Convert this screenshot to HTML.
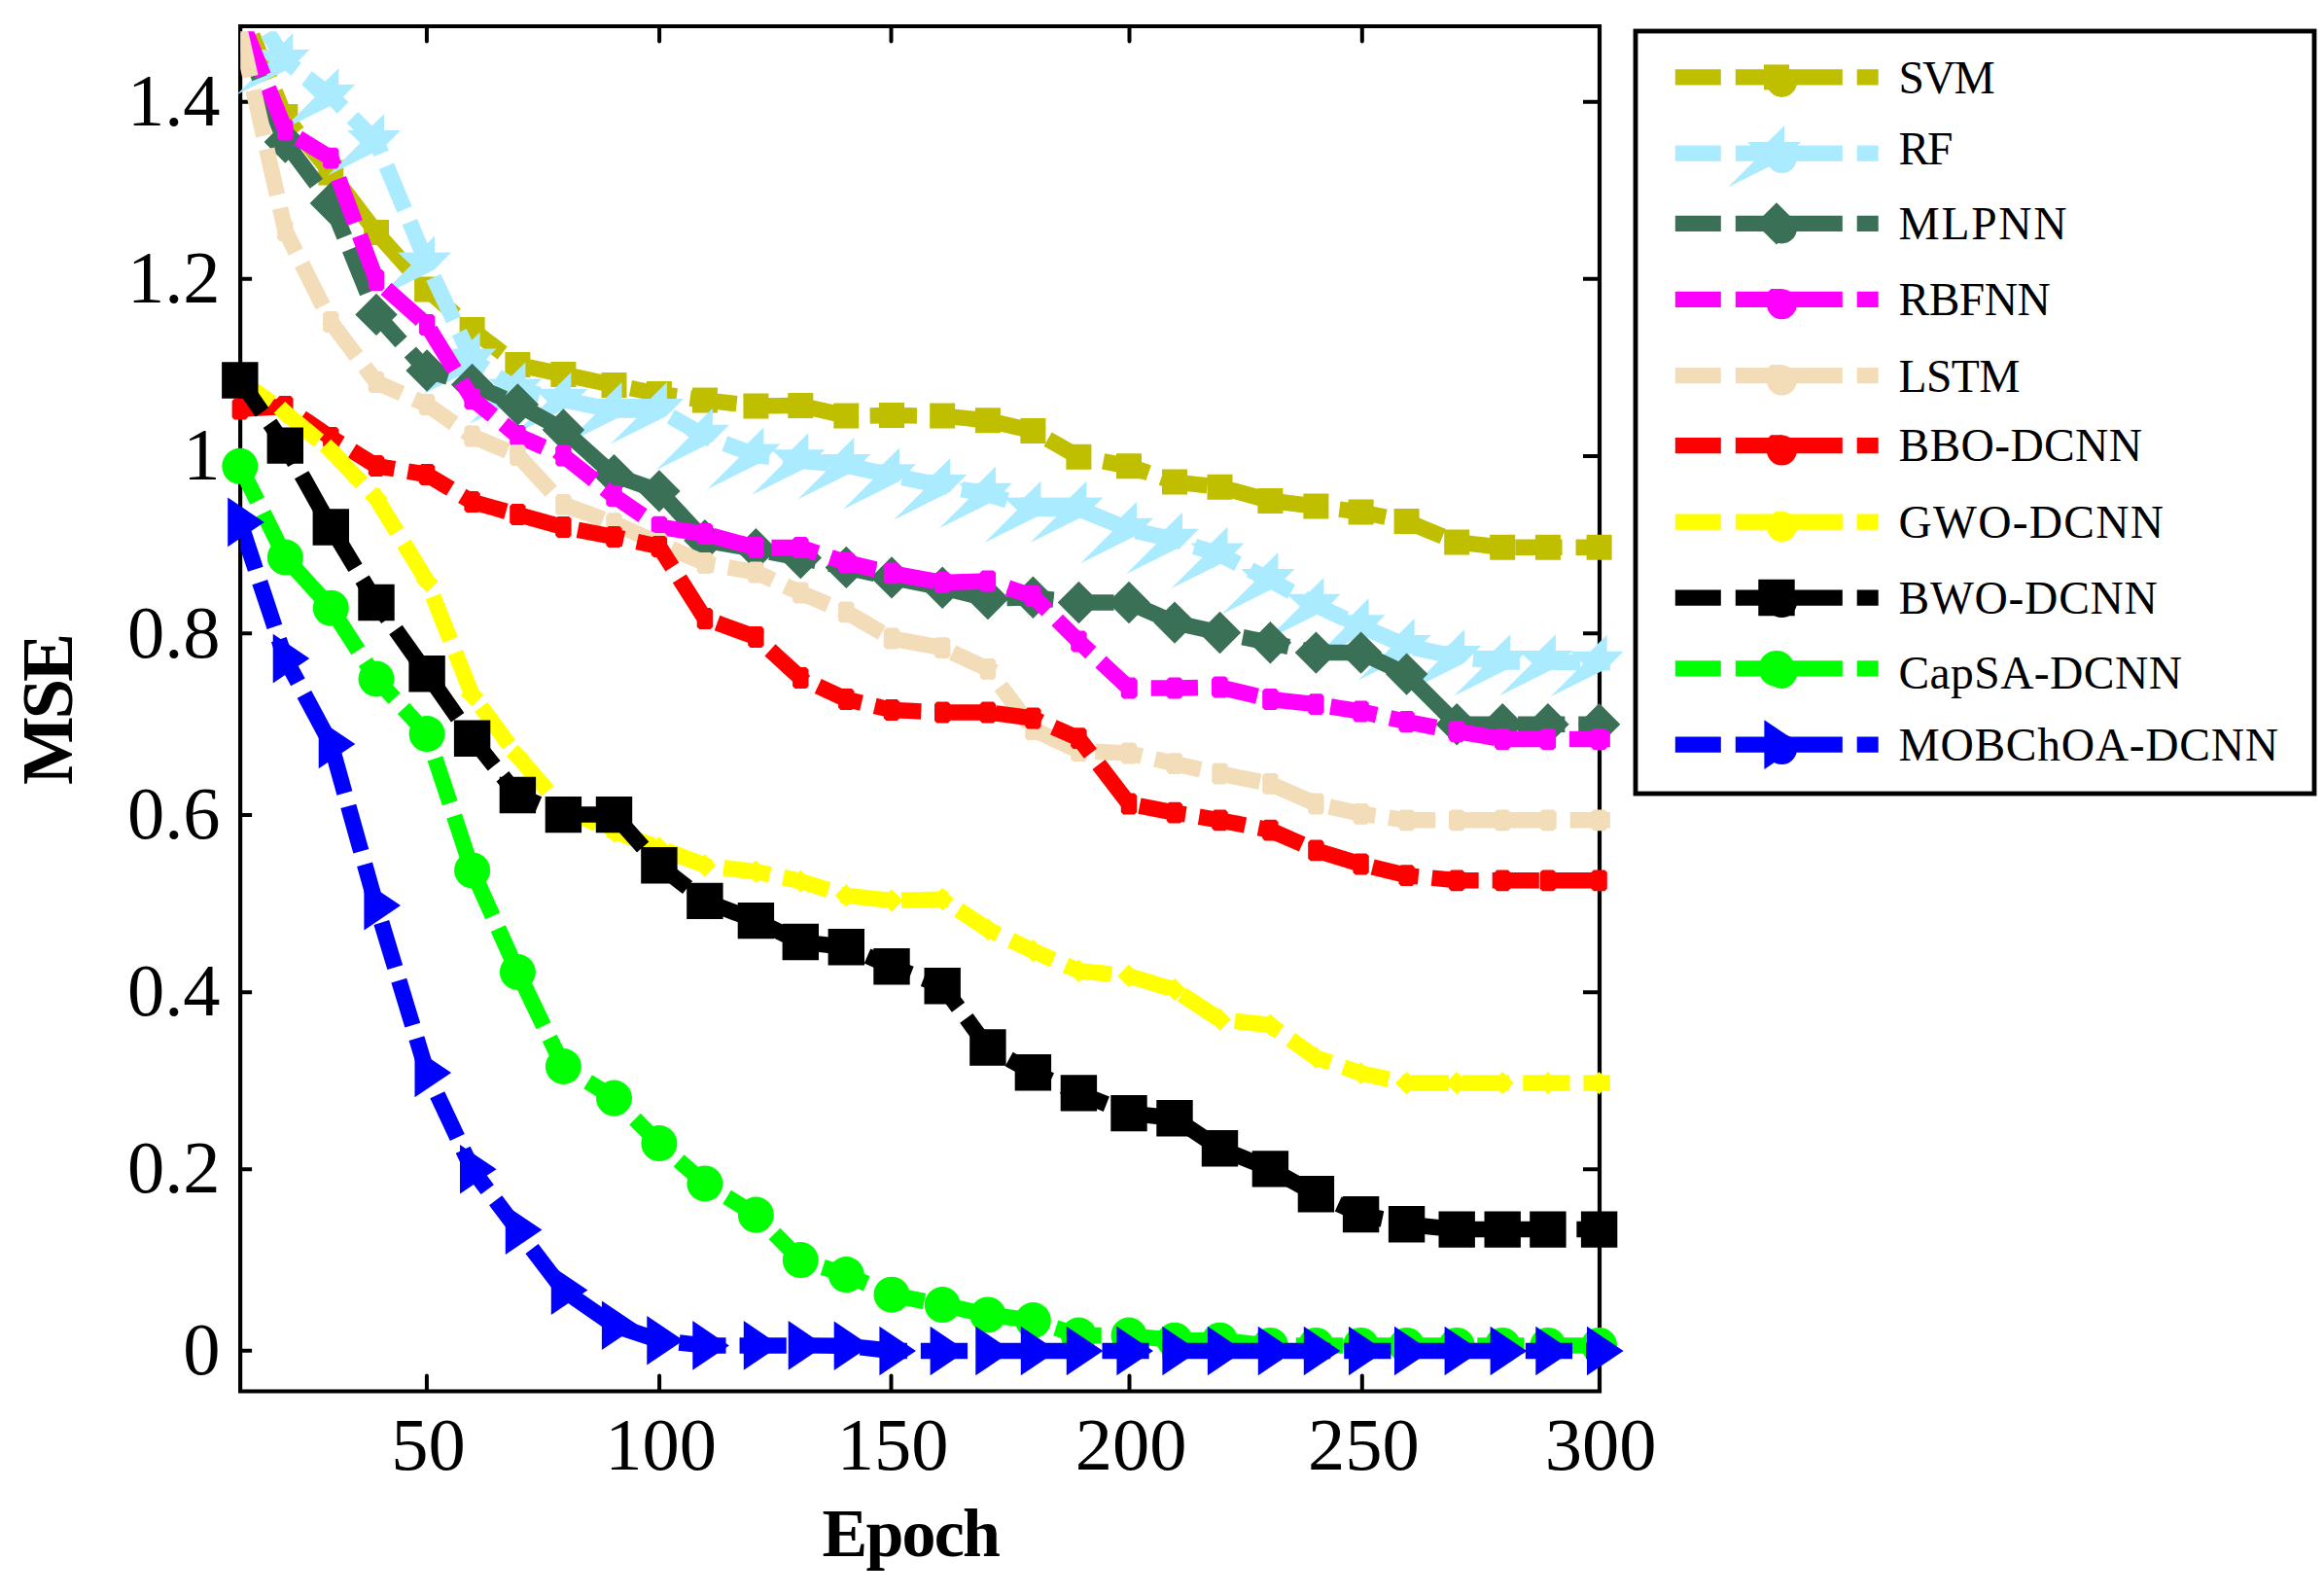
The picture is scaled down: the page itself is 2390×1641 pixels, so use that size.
<!DOCTYPE html>
<html lang="en"><head><meta charset="utf-8"><title>MSE vs Epoch</title>
<style>html,body{margin:0;padding:0;background:#fff}svg{display:block}text{font-family:"Liberation Serif",serif;fill:#000}.tk{font-size:76.5px}.lg{font-size:47.5px}.ax{font-weight:bold}.ln{fill:none;stroke-width:16.5;stroke-linecap:square;stroke-linejoin:bevel}</style></head><body>
<svg width="2390" height="1641" viewBox="0 0 2390 1641">
<rect width="2390" height="1641" fill="#fff"/>
<defs><clipPath id="cp"><rect x="247.2" y="32.3" width="1410" height="1500"/></clipPath></defs>
<g fill="none" stroke="#000" stroke-width="4.2">
<path d="M247.1 27H1645V1430.5H247.1z" stroke-linejoin="miter"/>
</g>
<path d="M438.9 1428.5V1414.6M438.9 29V42.6M678.1 1428.5V1414.6M678.1 29V42.6M916.5 1428.5V1414.6M916.5 29V42.6M1161.5 1428.5V1414.6M1161.5 29V42.6M1400.8 1428.5V1414.6M1400.8 29V42.6" fill="none" stroke="#000" stroke-width="4" stroke-linecap="round"/>
<path d="M248.1 104.8H259.1M1644 104.8H1628M248.1 286.7H259.1M1644 286.7H1628M248.1 469H259.1M1644 469H1628M248.1 651.3H259.1M1644 651.3H1628M248.1 838.1H259.1M1644 838.1H1628M248.1 1020.2H259.1M1644 1020.2H1628M248.1 1202.2H259.1M1644 1202.2H1628M248.1 1388.8H259.1M1644 1388.8H1628" fill="none" stroke="#000" stroke-width="4"/>
<g class="tk" text-anchor="middle">
<text x="440.4" y="1510.6">50</text>
<text x="679.6" y="1510.6">100</text>
<text x="918" y="1510.6">150</text>
<text x="1163" y="1510.6">200</text>
<text x="1402.3" y="1510.6">250</text>
<text x="1646.1" y="1510.6">300</text>
</g>
<g class="tk" text-anchor="end">
<text x="226.5" y="129">1.4</text>
<text x="226.5" y="310.9">1.2</text>
<text x="226.5" y="493.2">1</text>
<text x="226.5" y="675.5">0.8</text>
<text x="226.5" y="862.3">0.6</text>
<text x="226.5" y="1044.4">0.4</text>
<text x="226.5" y="1226.4">0.2</text>
<text x="226.5" y="1413">0</text>
</g>
<text class="ax" font-size="70" x="845.5" y="1600.4" textLength="183.5" lengthAdjust="spacing">Epoch</text>
<text class="ax" font-size="75" transform="translate(74.4 807) rotate(-90)" textLength="156" lengthAdjust="spacing">MSE</text>
<g>
<g fill="#bfbf00" stroke="#bfbf00">
<path class="ln" clip-path="url(#cp)" d="M246.8 5L251.2 15.9M262.6 44.1L274.5 73.5M285.9 101.8L293.3 120L300.9 129.4M320.2 152.9L340.3 177.5L340.3 177.5M358.7 201.8L377.9 227M397.3 250.6L418.4 274.2M438.7 297L439.1 297.5L462.3 318.2M485 338.5L485.6 339L510.1 357.9M534.7 375.5L565.7 382.1M595.6 388.4L626.6 395M656.5 400.8L677.9 405L687.7 406.3M717.9 410.5L724.9 411.4L749.4 414.2M779.7 417.4L811.4 417.1M841.5 421.1L870.3 427.6L872.5 427.6M902.9 427.3L917 427.1L934.7 427.3M965.1 427.6L969.2 427.6L996.7 430.4M1026.8 434.8L1057.7 442M1084.7 455.7L1109.4 469.7L1112.7 470.3M1142.7 475.9L1161 479.3L1173.4 483.6M1202.2 493.6L1208 495.6L1233.4 498.4M1263.4 503.1L1294 511.5M1323.9 517L1353.4 520.6L1355.4 520.9M1385.6 524.7L1399.6 526.5L1416.9 530M1446.7 536.2L1476 548.3M1504.6 558.2L1536.2 561.7M1566.6 562.7L1591.9 562.7L1598.3 562.7M1628.8 562.7L1644.6 562.7L1647.6 562.7"/>
<path d="M280.3 107h26v26h-26zM327.3 164.5h26v26h-26zM374 226h26v26h-26zM426.1 284.5h26v26h-26zM472.6 326h26v26h-26zM519.4 362h26v26h-26zM566.4 372h26v26h-26zM618.5 383h26v26h-26zM664.9 392h26v26h-26zM711.9 398.4h26v26h-26zM764.4 404.4h26v26h-26zM810.3 404h26v26h-26zM857.3 414.6h26v26h-26zM904 414.1h26v26h-26zM956.2 414.6h26v26h-26zM1002.9 419.3h26v26h-26zM1049.4 430.1h26v26h-26zM1096.4 456.7h26v26h-26zM1148 466.3h26v26h-26zM1195 482.6h26v26h-26zM1241.5 487.7h26v26h-26zM1293.4 501.9h26v26h-26zM1340.4 507.6h26v26h-26zM1386.6 513.5h26v26h-26zM1433.6 523.1h26v26h-26zM1485.2 544.5h26v26h-26zM1532.2 549.7h26v26h-26zM1578.9 549.7h26v26h-26zM1631.6 549.7h26v26h-26z" stroke="none"/>
</g>
<g fill="#abebff" stroke="#abebff">
<path class="ln" clip-path="url(#cp)" d="M246.8 -12L263.6 14.9M279.8 40.7L293.3 62.4L298.2 66.2M322.3 84.8L340.3 98.6L346.7 105M368.2 126.6L387 145.6L388.9 150.2M400.6 178.4L412.8 207.7M424.5 235.8L436.7 265.1M449.4 292.8L462.9 321.5M475.8 349.1L485.6 369.9L492.9 374.7M518.3 391.6L532.4 400.9L546.8 404.1M576.6 410.6L579.4 411.2L607.7 416.8M637.7 421.5L669.5 421.5M697.1 432.4L724.7 448.1M753.1 458.9L777.4 468L783.2 468.7M813.4 472.5L823.3 473.7L844.9 475.9M875.2 479.6L906.1 486.4M936 492.7L967 499.1M997 504.7L1015.9 508.2L1027.8 512M1056.8 521.3L1062.4 523.1L1088.3 523.1M1118 526.7L1147.4 538.7M1176.4 547.9L1207.3 555M1236.3 564.3L1254.5 570.1L1265.7 575.8M1292.9 589.6L1306.4 596.5L1320.9 604.5M1347.6 619.1L1353.4 622.3L1376.2 632.9M1403.9 645.6L1433 658.4M1461.8 667.6L1492.9 674.3M1523.1 678.2L1545.2 680.6L1554.6 680.6M1585.1 680.6L1591.9 680.6L1616.8 680.9M1647.3 681.2L1647.6 681.2"/>
<path d="M301.3 34L301.3 50.9L318.3 50.9L300.6 68.9L243.3 97.4L276.9 63.9L263.3 50.9L284.1 50.9zM348.3 70.2L348.3 87.1L365.3 87.1L347.6 105.1L290.3 133.6L323.9 100.1L310.3 87.1L331.1 87.1zM395 117.2L395 134.1L412 134.1L394.3 152.1L337 180.6L370.6 147.1L357 134.1L377.8 134.1zM447.1 242.5L447.1 259.4L464.1 259.4L446.4 277.4L389.1 305.9L422.7 272.4L409.1 259.4L429.9 259.4zM493.6 341.5L493.6 358.4L510.6 358.4L492.9 376.4L435.6 404.9L469.2 371.4L455.6 358.4L476.4 358.4zM540.4 372.5L540.4 389.4L557.4 389.4L539.7 407.4L482.4 435.9L516 402.4L502.4 389.4L523.2 389.4zM587.4 382.8L587.4 399.7L604.4 399.7L586.7 417.7L529.4 446.2L563 412.7L549.4 399.7L570.2 399.7zM639.5 393.1L639.5 410L656.5 410L638.8 428L581.5 456.5L615.1 423L601.5 410L622.3 410zM685.9 393.1L685.9 410L702.9 410L685.2 428L627.9 456.5L661.5 423L647.9 410L668.7 410zM732.9 419.8L732.9 436.7L749.9 436.7L732.2 454.7L674.9 483.2L708.5 449.7L694.9 436.7L715.7 436.7zM785.4 439.6L785.4 456.5L802.4 456.5L784.7 474.5L727.4 503L761 469.5L747.4 456.5L768.2 456.5zM831.3 445.3L831.3 462.2L848.3 462.2L830.6 480.2L773.3 508.7L806.9 475.2L793.3 462.2L814.1 462.2zM878.3 450.1L878.3 467L895.3 467L877.6 485L820.3 513.5L853.9 480L840.3 467L861.1 467zM925 460.4L925 477.3L942 477.3L924.3 495.3L867 523.8L900.6 490.3L887 477.3L907.8 477.3zM977.2 471.1L977.2 488L994.2 488L976.5 506L919.2 534.5L952.8 501L939.2 488L960 488zM1023.9 479.8L1023.9 496.7L1040.9 496.7L1023.2 514.7L965.9 543.2L999.5 509.7L985.9 496.7L1006.7 496.7zM1070.4 494.7L1070.4 511.6L1087.4 511.6L1069.7 529.6L1012.4 558.1L1046 524.6L1032.4 511.6L1053.2 511.6zM1117.4 494.7L1117.4 511.6L1134.4 511.6L1116.7 529.6L1059.4 558.1L1093 524.6L1079.4 511.6L1100.2 511.6zM1169 515.9L1169 532.8L1186 532.8L1168.3 550.8L1111 579.3L1144.6 545.8L1131 532.8L1151.8 532.8zM1216 526.8L1216 543.7L1233 543.7L1215.3 561.7L1158 590.2L1191.6 556.7L1178 543.7L1198.8 543.7zM1262.5 541.7L1262.5 558.6L1279.5 558.6L1261.8 576.6L1204.5 605.1L1238.1 571.6L1224.5 558.6L1245.3 558.6zM1314.4 568.1L1314.4 585L1331.4 585L1313.7 603L1256.4 631.5L1290 598L1276.4 585L1297.2 585zM1361.4 593.9L1361.4 610.8L1378.4 610.8L1360.7 628.8L1303.4 657.3L1337 623.8L1323.4 610.8L1344.2 610.8zM1407.6 615.3L1407.6 632.2L1424.6 632.2L1406.9 650.2L1349.6 678.7L1383.2 645.2L1369.6 632.2L1390.4 632.2zM1454.6 636L1454.6 652.9L1471.6 652.9L1453.9 670.9L1396.6 699.4L1430.2 665.9L1416.6 652.9L1437.4 652.9zM1506.2 647L1506.2 663.9L1523.2 663.9L1505.5 681.9L1448.2 710.4L1481.8 676.9L1468.2 663.9L1489 663.9zM1553.2 652.2L1553.2 669.1L1570.2 669.1L1552.5 687.1L1495.2 715.6L1528.8 682.1L1515.2 669.1L1536 669.1zM1599.9 652.2L1599.9 669.1L1616.9 669.1L1599.2 687.1L1541.9 715.6L1575.5 682.1L1561.9 669.1L1582.7 669.1zM1652.6 652.8L1652.6 669.7L1669.6 669.7L1651.9 687.7L1594.6 716.2L1628.2 682.7L1614.6 669.7L1635.4 669.7z" stroke="none"/>
</g>
<g fill="#3a7156" stroke="#3a7156">
<path class="ln" clip-path="url(#cp)" d="M252.1 43.2L263.9 72.6M275.2 100.9L287 130.4M301.4 156.9L320.4 182.3M338.6 206.8L340.3 209L351.2 235.8M362.8 264L374.7 293.4M386.3 321.6L387 323.4L407 345.5M427.4 368.1L439.1 381L452.8 385.2M481.9 394.3L485.6 395.4L511.1 406.6M538.7 419.5L566.4 434.8M591.1 452.4L614.7 473.6M639 491.2L668.9 501.8M692.2 520.3L713.7 543.6M738.7 558.1L769.9 563.5M799.9 569.1L823.3 573.6L831 575.2M860.9 581.4L870.3 583.4L891.8 588.2M921.6 594.8L952.7 600.9M982.5 607.4L1013.3 615M1043.7 614.8L1062.4 614.3L1075.3 615.7M1105.6 619.1L1109.4 619.5L1137.3 619.5M1167.2 622.2L1196.3 635M1225.3 644L1254.5 650.5L1256.2 650.8M1286.1 656.8L1306.4 660.8L1317.2 663.2M1347 669.7L1353.4 671.1L1378.5 671.1M1408.1 675.1L1436.9 688.5M1460.5 707L1483 729.5M1507.1 744.7L1538.9 744.7M1569.3 744.7L1591.9 744.7L1601.1 744.7M1631.5 744.7L1644.6 744.7L1647.6 744.7"/>
<path d="M293.3 124.3l21.7 21.7l-21.7 21.7l-21.7 -21.7zM340.3 187.3l21.7 21.7l-21.7 21.7l-21.7 -21.7zM387 301.7l21.7 21.7l-21.7 21.7l-21.7 -21.7zM439.1 359.3l21.7 21.7l-21.7 21.7l-21.7 -21.7zM485.6 373.7l21.7 21.7l-21.7 21.7l-21.7 -21.7zM532.4 394.3l21.7 21.7l-21.7 21.7l-21.7 -21.7zM579.4 420.3l21.7 21.7l-21.7 21.7l-21.7 -21.7zM631.5 466.9l21.7 21.7l-21.7 21.7l-21.7 -21.7zM677.9 483.2l21.7 21.7l-21.7 21.7l-21.7 -21.7zM724.9 534l21.7 21.7l-21.7 21.7l-21.7 -21.7zM777.4 543.1l21.7 21.7l-21.7 21.7l-21.7 -21.7zM823.3 551.9l21.7 21.7l-21.7 21.7l-21.7 -21.7zM870.3 561.7l21.7 21.7l-21.7 21.7l-21.7 -21.7zM917 572.2l21.7 21.7l-21.7 21.7l-21.7 -21.7zM969.2 582.5l21.7 21.7l-21.7 21.7l-21.7 -21.7zM1015.9 593.9l21.7 21.7l-21.7 21.7l-21.7 -21.7zM1062.4 592.6l21.7 21.7l-21.7 21.7l-21.7 -21.7zM1109.4 597.8l21.7 21.7l-21.7 21.7l-21.7 -21.7zM1161 597.8l21.7 21.7l-21.7 21.7l-21.7 -21.7zM1208 618.4l21.7 21.7l-21.7 21.7l-21.7 -21.7zM1254.5 628.8l21.7 21.7l-21.7 21.7l-21.7 -21.7zM1306.4 639.1l21.7 21.7l-21.7 21.7l-21.7 -21.7zM1353.4 649.4l21.7 21.7l-21.7 21.7l-21.7 -21.7zM1399.6 649.4l21.7 21.7l-21.7 21.7l-21.7 -21.7zM1446.6 671.4l21.7 21.7l-21.7 21.7l-21.7 -21.7zM1498.2 723l21.7 21.7l-21.7 21.7l-21.7 -21.7zM1545.2 723l21.7 21.7l-21.7 21.7l-21.7 -21.7zM1591.9 723l21.7 21.7l-21.7 21.7l-21.7 -21.7zM1644.6 723l21.7 21.7l-21.7 21.7l-21.7 -21.7z" stroke="none"/>
</g>
<g fill="#ff00ff" stroke="#ff00ff">
<path class="ln" clip-path="url(#cp)" d="M255.8 40.5L267.7 69.9M279 98.2L290.9 127.6M313.7 146.2L340.3 162.6L340.5 163.1M351.1 191.6L362.2 221.4M372.8 249.9L383.9 279.6M403.2 302.3L426.9 323.3M446.5 346.2L463.1 373.2M479 399.2L485.6 410L500.4 422M524.1 441.2L532.4 448L551.6 456.4M579.6 468.6L604.4 488.4M628.2 507.4L631.5 510L654.2 525.5M679.7 542L711 546.8M740.8 553.2L771.4 561.4M801.7 563L823.3 563L832.9 566.2M861.9 575.6L870.3 578.4L892.6 583.6M922.3 590.3L953.5 596.1M983.7 598.5L1015.4 597.5M1044.3 607L1062.4 613L1071.4 621.9M1093.1 643.3L1109.4 659.5L1115.8 665.5M1138.1 686.2L1161 707.5L1161.5 707.5M1192 707.5L1208 707.5L1223.7 707.2M1254.2 706.5L1254.5 706.5L1285 713.8M1314.8 719.9L1346.3 723.4M1376.5 727.8L1399.6 731.5L1407.7 733.3M1437.5 740L1446.6 742L1468.6 746.3M1498.5 752L1529.8 757.4M1560 760L1591.7 760M1622.2 760L1644.6 760L1647.6 760"/>
<path d="M287.6 122.7L299 122.7L301.5 125.2L301.5 142L299 144.5L287.6 144.5L285.1 142L285.1 125.2zM334.6 151.7L346 151.7L348.5 154.2L348.5 171L346 173.5L334.6 173.5L332.1 171L332.1 154.2zM381.3 277.1L392.7 277.1L395.2 279.6L395.2 296.4L392.7 298.9L381.3 298.9L378.8 296.4L378.8 279.6zM433.4 323.1L444.8 323.1L447.3 325.6L447.3 342.4L444.8 344.9L433.4 344.9L430.9 342.4L430.9 325.6zM479.9 399.1L491.3 399.1L493.8 401.6L493.8 418.4L491.3 420.9L479.9 420.9L477.4 418.4L477.4 401.6zM526.7 437.1L538.1 437.1L540.6 439.6L540.6 456.4L538.1 458.9L526.7 458.9L524.2 456.4L524.2 439.6zM573.7 457.6L585.1 457.6L587.6 460.1L587.6 476.9L585.1 479.4L573.7 479.4L571.2 476.9L571.2 460.1zM625.8 499.1L637.2 499.1L639.7 501.6L639.7 518.4L637.2 520.9L625.8 520.9L623.3 518.4L623.3 501.6zM672.2 530.8L683.6 530.8L686.1 533.3L686.1 550.1L683.6 552.6L672.2 552.6L669.7 550.1L669.7 533.3zM719.2 538.1L730.6 538.1L733.1 540.6L733.1 557.4L730.6 559.9L719.2 559.9L716.7 557.4L716.7 540.6zM771.7 552.1L783.1 552.1L785.6 554.6L785.6 571.4L783.1 573.9L771.7 573.9L769.2 571.4L769.2 554.6zM817.6 552.1L829 552.1L831.5 554.6L831.5 571.4L829 573.9L817.6 573.9L815.1 571.4L815.1 554.6zM864.6 567.5L876 567.5L878.5 570L878.5 586.8L876 589.3L864.6 589.3L862.1 586.8L862.1 570zM911.3 578.4L922.7 578.4L925.2 580.9L925.2 597.7L922.7 600.2L911.3 600.2L908.8 597.7L908.8 580.9zM963.5 588.1L974.9 588.1L977.4 590.6L977.4 607.4L974.9 609.9L963.5 609.9L961 607.4L961 590.6zM1010.2 586.6L1021.6 586.6L1024.1 589.1L1024.1 605.9L1021.6 608.4L1010.2 608.4L1007.7 605.9L1007.7 589.1zM1056.7 602.1L1068.1 602.1L1070.6 604.6L1070.6 621.4L1068.1 623.9L1056.7 623.9L1054.2 621.4L1054.2 604.6zM1103.7 648.6L1115.1 648.6L1117.6 651.1L1117.6 667.9L1115.1 670.4L1103.7 670.4L1101.2 667.9L1101.2 651.1zM1155.3 696.6L1166.7 696.6L1169.2 699.1L1169.2 715.9L1166.7 718.4L1155.3 718.4L1152.8 715.9L1152.8 699.1zM1202.3 696.6L1213.7 696.6L1216.2 699.1L1216.2 715.9L1213.7 718.4L1202.3 718.4L1199.8 715.9L1199.8 699.1zM1248.8 695.6L1260.2 695.6L1262.7 698.1L1262.7 714.9L1260.2 717.4L1248.8 717.4L1246.3 714.9L1246.3 698.1zM1300.7 708.1L1312.1 708.1L1314.6 710.6L1314.6 727.4L1312.1 729.9L1300.7 729.9L1298.2 727.4L1298.2 710.6zM1347.7 713.3L1359.1 713.3L1361.6 715.8L1361.6 732.6L1359.1 735.1L1347.7 735.1L1345.2 732.6L1345.2 715.8zM1393.9 720.6L1405.3 720.6L1407.8 723.1L1407.8 739.9L1405.3 742.4L1393.9 742.4L1391.4 739.9L1391.4 723.1zM1440.9 731.1L1452.3 731.1L1454.8 733.6L1454.8 750.4L1452.3 752.9L1440.9 752.9L1438.4 750.4L1438.4 733.6zM1492.5 741.1L1503.9 741.1L1506.4 743.6L1506.4 760.4L1503.9 762.9L1492.5 762.9L1490 760.4L1490 743.6zM1539.5 749.1L1550.9 749.1L1553.4 751.6L1553.4 768.4L1550.9 770.9L1539.5 770.9L1537 768.4L1537 751.6zM1586.2 749.1L1597.6 749.1L1600.1 751.6L1600.1 768.4L1597.6 770.9L1586.2 770.9L1583.7 768.4L1583.7 751.6zM1638.9 749.1L1650.3 749.1L1652.8 751.6L1652.8 768.4L1650.3 770.9L1638.9 770.9L1636.4 768.4L1636.4 751.6z" stroke="none"/>
</g>
<g fill="#f3dcb8" stroke="#f3dcb8">
<path class="ln" clip-path="url(#cp)" d="M248.6 40L255.6 70.9M262.4 100.7L269.4 131.6M276.1 161.3L283.1 192.3M289.9 222L293.3 237L300.6 251.6M314.2 278.9L328.4 307.2M342.6 334.1L361.7 359.5M380.1 383.8L387 393L405.5 401.2M433.4 413.5L439.1 416L460 430.6M484.9 448L485.6 448.5L514.1 460.4M539.7 475.8L561.2 499.1M582.9 520.1L612.6 531.1M640.9 542.3L669.9 555.2M697.9 567.4L724.9 579L727.1 579.4M757.1 584.8L777.4 588.5L787.5 593.1M815.2 605.8L823.3 609.5L844.4 618.4M872.3 630.5L899.7 646.4M927.3 658.4L958.5 664.2M987 674.5L1015.7 687.8M1034.1 712.2L1053.1 737.5M1075.9 756.3L1104.6 769.8M1134.6 773.2L1161 774.5L1166.2 775.7M1195.9 782.4L1208 785.2L1226.8 789.4M1256.6 795.9L1287.7 802.2M1316.8 810.5L1345.9 823.2M1375.2 831.3L1399.6 836.8L1406.2 837.7M1436.4 841.9L1446.6 843.3L1468 843.3M1498.5 843.3L1530.2 843.3M1560.7 843.3L1591.9 843.3L1592.4 843.3M1622.9 843.3L1644.6 843.3L1647.6 843.3"/>
<path d="M287.6 226.1L299 226.1L301.5 228.6L301.5 245.4L299 247.9L287.6 247.9L285.1 245.4L285.1 228.6zM334.6 320.1L346 320.1L348.5 322.6L348.5 339.4L346 341.9L334.6 341.9L332.1 339.4L332.1 322.6zM381.3 382.1L392.7 382.1L395.2 384.6L395.2 401.4L392.7 403.9L381.3 403.9L378.8 401.4L378.8 384.6zM433.4 405.1L444.8 405.1L447.3 407.6L447.3 424.4L444.8 426.9L433.4 426.9L430.9 424.4L430.9 407.6zM479.9 437.6L491.3 437.6L493.8 440.1L493.8 456.9L491.3 459.4L479.9 459.4L477.4 456.9L477.4 440.1zM526.7 457.1L538.1 457.1L540.6 459.6L540.6 476.4L538.1 478.9L526.7 478.9L524.2 476.4L524.2 459.6zM573.7 507.9L585.1 507.9L587.6 510.4L587.6 527.2L585.1 529.7L573.7 529.7L571.2 527.2L571.2 510.4zM625.8 527.2L637.2 527.2L639.7 529.7L639.7 546.5L637.2 549L625.8 549L623.3 546.5L623.3 529.7zM672.2 547.9L683.6 547.9L686.1 550.4L686.1 567.2L683.6 569.7L672.2 569.7L669.7 567.2L669.7 550.4zM719.2 568.1L730.6 568.1L733.1 570.6L733.1 587.4L730.6 589.9L719.2 589.9L716.7 587.4L716.7 570.6zM771.7 577.6L783.1 577.6L785.6 580.1L785.6 596.9L783.1 599.4L771.7 599.4L769.2 596.9L769.2 580.1zM817.6 598.6L829 598.6L831.5 601.1L831.5 617.9L829 620.4L817.6 620.4L815.1 617.9L815.1 601.1zM864.6 618.4L876 618.4L878.5 620.9L878.5 637.7L876 640.2L864.6 640.2L862.1 637.7L862.1 620.9zM911.3 645.6L922.7 645.6L925.2 648.1L925.2 664.9L922.7 667.4L911.3 667.4L908.8 664.9L908.8 648.1zM963.5 655.3L974.9 655.3L977.4 657.8L977.4 674.6L974.9 677.1L963.5 677.1L961 674.6L961 657.8zM1010.2 677L1021.6 677L1024.1 679.5L1024.1 696.3L1021.6 698.8L1010.2 698.8L1007.7 696.3L1007.7 679.5zM1056.7 739.1L1068.1 739.1L1070.6 741.6L1070.6 758.4L1068.1 760.9L1056.7 760.9L1054.2 758.4L1054.2 741.6zM1103.7 761.1L1115.1 761.1L1117.6 763.6L1117.6 780.4L1115.1 782.9L1103.7 782.9L1101.2 780.4L1101.2 763.6zM1155.3 763.6L1166.7 763.6L1169.2 766.1L1169.2 782.9L1166.7 785.4L1155.3 785.4L1152.8 782.9L1152.8 766.1zM1202.3 774.3L1213.7 774.3L1216.2 776.8L1216.2 793.6L1213.7 796.1L1202.3 796.1L1199.8 793.6L1199.8 776.8zM1248.8 784.6L1260.2 784.6L1262.7 787.1L1262.7 803.9L1260.2 806.4L1248.8 806.4L1246.3 803.9L1246.3 787.1zM1300.7 795L1312.1 795L1314.6 797.5L1314.6 814.3L1312.1 816.8L1300.7 816.8L1298.2 814.3L1298.2 797.5zM1347.7 815.6L1359.1 815.6L1361.6 818.1L1361.6 834.9L1359.1 837.4L1347.7 837.4L1345.2 834.9L1345.2 818.1zM1393.9 825.9L1405.3 825.9L1407.8 828.4L1407.8 845.2L1405.3 847.7L1393.9 847.7L1391.4 845.2L1391.4 828.4zM1440.9 832.4L1452.3 832.4L1454.8 834.9L1454.8 851.7L1452.3 854.2L1440.9 854.2L1438.4 851.7L1438.4 834.9zM1492.5 832.4L1503.9 832.4L1506.4 834.9L1506.4 851.7L1503.9 854.2L1492.5 854.2L1490 851.7L1490 834.9zM1539.5 832.4L1550.9 832.4L1553.4 834.9L1553.4 851.7L1550.9 854.2L1539.5 854.2L1537 851.7L1537 834.9zM1586.2 832.4L1597.6 832.4L1600.1 834.9L1600.1 851.7L1597.6 854.2L1586.2 854.2L1583.7 851.7L1583.7 834.9zM1638.9 832.4L1650.3 832.4L1652.8 834.9L1652.8 851.7L1650.3 854.2L1638.9 854.2L1636.4 851.7L1636.4 834.9z" stroke="none"/>
</g>
<g fill="#ff0000" stroke="#ff0000">
<path class="ln" clip-path="url(#cp)" d="M259.8 419.9L291.4 418.1M317 434.1L340.3 450L343.3 451.8M369.2 467.9L387 479L397.6 480.8M427.6 486L439.1 488L456.3 498.3M482.4 514.1L485.6 516L512.5 523.5M541.9 531.6L572.5 540.1M602.3 546.4L631.5 552L633.4 552.4M663.2 558.8L677.9 562L686.9 576.1M703.2 601.8L720.2 628.6M745.3 643.4L775.2 654.2M798.1 674L821.5 695.4M848.7 708.9L870.3 719L878 720.8M907.7 727.8L917 730L939.1 731.1M969.5 732.5L1001.3 732.5M1031.6 734.5L1062.4 738.5L1063 738.8M1090.9 751.1L1109.4 759.2L1116.4 768.3M1135 792.5L1154.3 817.7M1180 830.2L1208 835.6L1211.2 836.1M1241.3 841.1L1254.5 843.3L1272.5 846.9M1302.4 852.8L1306.4 853.6L1331.7 864.7M1359.8 876.3L1390.1 885.6M1419.6 893.4L1446.6 900.1L1450.5 900.5M1480.8 903.5L1498.2 905.3L1512.4 905.3M1542.9 905.3L1545.2 905.3L1574.6 905.3M1605.1 905.3L1636.8 905.3"/>
<path d="M241.1 409.8L252.5 409.8L255 412.3L255 429.1L252.5 431.6L241.1 431.6L238.6 429.1L238.6 412.3zM287.6 407.1L299 407.1L301.5 409.6L301.5 426.4L299 428.9L287.6 428.9L285.1 426.4L285.1 409.6zM334.6 439.1L346 439.1L348.5 441.6L348.5 458.4L346 460.9L334.6 460.9L332.1 458.4L332.1 441.6zM381.3 468.1L392.7 468.1L395.2 470.6L395.2 487.4L392.7 489.9L381.3 489.9L378.8 487.4L378.8 470.6zM433.4 477.1L444.8 477.1L447.3 479.6L447.3 496.4L444.8 498.9L433.4 498.9L430.9 496.4L430.9 479.6zM479.9 505.1L491.3 505.1L493.8 507.6L493.8 524.4L491.3 526.9L479.9 526.9L477.4 524.4L477.4 507.6zM526.7 518.1L538.1 518.1L540.6 520.6L540.6 537.4L538.1 539.9L526.7 539.9L524.2 537.4L524.2 520.6zM573.7 531.1L585.1 531.1L587.6 533.6L587.6 550.4L585.1 552.9L573.7 552.9L571.2 550.4L571.2 533.6zM625.8 541.1L637.2 541.1L639.7 543.6L639.7 560.4L637.2 562.9L625.8 562.9L623.3 560.4L623.3 543.6zM672.2 551.1L683.6 551.1L686.1 553.6L686.1 570.4L683.6 572.9L672.2 572.9L669.7 570.4L669.7 553.6zM719.2 625.1L730.6 625.1L733.1 627.6L733.1 644.4L730.6 646.9L719.2 646.9L716.7 644.4L716.7 627.6zM771.7 644.1L783.1 644.1L785.6 646.6L785.6 663.4L783.1 665.9L771.7 665.9L769.2 663.4L769.2 646.6zM817.6 686.1L829 686.1L831.5 688.6L831.5 705.4L829 707.9L817.6 707.9L815.1 705.4L815.1 688.6zM864.6 708.1L876 708.1L878.5 710.6L878.5 727.4L876 729.9L864.6 729.9L862.1 727.4L862.1 710.6zM911.3 719.1L922.7 719.1L925.2 721.6L925.2 738.4L922.7 740.9L911.3 740.9L908.8 738.4L908.8 721.6zM963.5 721.6L974.9 721.6L977.4 724.1L977.4 740.9L974.9 743.4L963.5 743.4L961 740.9L961 724.1zM1010.2 721.6L1021.6 721.6L1024.1 724.1L1024.1 740.9L1021.6 743.4L1010.2 743.4L1007.7 740.9L1007.7 724.1zM1056.7 727.6L1068.1 727.6L1070.6 730.1L1070.6 746.9L1068.1 749.4L1056.7 749.4L1054.2 746.9L1054.2 730.1zM1103.7 748.3L1115.1 748.3L1117.6 750.8L1117.6 767.6L1115.1 770.1L1103.7 770.1L1101.2 767.6L1101.2 750.8zM1155.3 815.6L1166.7 815.6L1169.2 818.1L1169.2 834.9L1166.7 837.4L1155.3 837.4L1152.8 834.9L1152.8 818.1zM1202.3 824.7L1213.7 824.7L1216.2 827.2L1216.2 844L1213.7 846.5L1202.3 846.5L1199.8 844L1199.8 827.2zM1248.8 832.4L1260.2 832.4L1262.7 834.9L1262.7 851.7L1260.2 854.2L1248.8 854.2L1246.3 851.7L1246.3 834.9zM1300.7 842.7L1312.1 842.7L1314.6 845.2L1314.6 862L1312.1 864.5L1300.7 864.5L1298.2 862L1298.2 845.2zM1347.7 863.4L1359.1 863.4L1361.6 865.9L1361.6 882.7L1359.1 885.2L1347.7 885.2L1345.2 882.7L1345.2 865.9zM1393.9 877.6L1405.3 877.6L1407.8 880.1L1407.8 896.9L1405.3 899.4L1393.9 899.4L1391.4 896.9L1391.4 880.1zM1440.9 889.2L1452.3 889.2L1454.8 891.7L1454.8 908.5L1452.3 911L1440.9 911L1438.4 908.5L1438.4 891.7zM1492.5 894.4L1503.9 894.4L1506.4 896.9L1506.4 913.7L1503.9 916.2L1492.5 916.2L1490 913.7L1490 896.9zM1539.5 894.4L1550.9 894.4L1553.4 896.9L1553.4 913.7L1550.9 916.2L1539.5 916.2L1537 913.7L1537 896.9zM1586.2 894.4L1597.6 894.4L1600.1 896.9L1600.1 913.7L1597.6 916.2L1586.2 916.2L1583.7 913.7L1583.7 896.9zM1638.9 894.4L1650.3 894.4L1652.8 896.9L1652.8 913.7L1650.3 916.2L1638.9 916.2L1636.4 913.7L1636.4 896.9z" stroke="none"/>
</g>
<g fill="#ffff00" stroke="#ffff00">
<path class="ln" clip-path="url(#cp)" d="M246.8 391L272.5 409.5M297.1 427.6L321.5 447.8M344.5 467.7L366.4 490.7M387.3 512.9L403.9 539.9M419.8 565.9L436.3 593M448.4 620.9L460.1 650.4M471.4 678.7L483.1 708.2M499.7 733.5L518.6 759M537.3 783.1L558 807.1M578 830.1L579.4 831.7L606.4 843.7M634.4 855.9L664.2 866.7M692.7 877.4L722.3 888.8M752.4 893.2L777.4 896.2L783.8 897.6M813.6 903.9L823.3 906L844.1 912.6M873.3 921.1L904.8 924.6M935.2 925.4L966.9 924.7M992.7 940.2L1015.9 955.6L1019.4 957.3M1047 970.3L1062.4 977.6L1075.8 983.5M1103.7 995.7L1109.4 998.2L1134.8 1000.8M1165 1004.6L1195.3 1013.8M1222.4 1027.1L1248.9 1044.5M1278.1 1050.8L1306.4 1054L1309.1 1055.9M1333.9 1073.6L1353.4 1087.5L1360.7 1090M1389.5 1100L1399.6 1103.5L1420.2 1107.9M1450.1 1113.6L1481.8 1113.6M1512.3 1113.6L1544 1113.6M1574.5 1113.6L1591.9 1113.6L1606.2 1113.6M1636.7 1113.6L1644.6 1113.6L1647.6 1113.6"/>
<path d="M246.8 379.4l11.6 11.6l-11.6 11.6l-11.6 -11.6zM293.3 412.9l11.6 11.6l-11.6 11.6l-11.6 -11.6zM340.3 451.7l11.6 11.6l-11.6 11.6l-11.6 -11.6zM387 500.7l11.6 11.6l-11.6 11.6l-11.6 -11.6zM439.1 585.9l11.6 11.6l-11.6 11.6l-11.6 -11.6zM485.6 702.9l11.6 11.6l-11.6 11.6l-11.6 -11.6zM532.4 765.9l11.6 11.6l-11.6 11.6l-11.6 -11.6zM579.4 820.1l11.6 11.6l-11.6 11.6l-11.6 -11.6zM631.5 843.3l11.6 11.6l-11.6 11.6l-11.6 -11.6zM677.9 860.1l11.6 11.6l-11.6 11.6l-11.6 -11.6zM724.9 878.2l11.6 11.6l-11.6 11.6l-11.6 -11.6zM777.4 884.6l11.6 11.6l-11.6 11.6l-11.6 -11.6zM823.3 894.4l11.6 11.6l-11.6 11.6l-11.6 -11.6zM870.3 909.2l11.6 11.6l-11.6 11.6l-11.6 -11.6zM917 914.3l11.6 11.6l-11.6 11.6l-11.6 -11.6zM969.2 913l11.6 11.6l-11.6 11.6l-11.6 -11.6zM1015.9 944l11.6 11.6l-11.6 11.6l-11.6 -11.6zM1062.4 966l11.6 11.6l-11.6 11.6l-11.6 -11.6zM1109.4 986.6l11.6 11.6l-11.6 11.6l-11.6 -11.6zM1161 991.8l11.6 11.6l-11.6 11.6l-11.6 -11.6zM1208 1006l11.6 11.6l-11.6 11.6l-11.6 -11.6zM1254.5 1036.6l11.6 11.6l-11.6 11.6l-11.6 -11.6zM1306.4 1042.4l11.6 11.6l-11.6 11.6l-11.6 -11.6zM1353.4 1075.9l11.6 11.6l-11.6 11.6l-11.6 -11.6zM1399.6 1091.9l11.6 11.6l-11.6 11.6l-11.6 -11.6zM1446.6 1102l11.6 11.6l-11.6 11.6l-11.6 -11.6zM1498.2 1102l11.6 11.6l-11.6 11.6l-11.6 -11.6zM1545.2 1102l11.6 11.6l-11.6 11.6l-11.6 -11.6zM1591.9 1102l11.6 11.6l-11.6 11.6l-11.6 -11.6zM1644.6 1102l11.6 11.6l-11.6 11.6l-11.6 -11.6z" stroke="none"/>
</g>
<g fill="#000000" stroke="#000000">
<path class="ln" clip-path="url(#cp)" d="M246.8 391L264.9 417.1M282.2 442.1L293.3 458.1L299.3 468.8M314.2 495.4L329.7 523.1M344.8 549.5L361.2 576.7M376.9 602.8L387 619.5L394.1 629.5M411.8 654.3L430.2 680.1M447.7 705L465.9 731M483.4 756L485.6 759.2L503 780.9M522.1 804.7L532.4 817.5L546.4 823.5M574.5 835.5L579.4 837.6L605.8 837.6M634.6 841.1L655.7 864.9M676 887.6L677.9 889.8L700.6 907.5M724.7 926.2L724.9 926.4L754.3 937.7M782.5 949L811.2 962.7M840.2 970.4L870.3 973.7L871.6 974.3M899.6 986.3L917 993.8L929 998.4M957.5 1009.2L969.2 1013.7L980.6 1029.1M998.7 1053.6L1015.9 1077L1018.3 1078.3M1044.9 1093L1062.4 1102.7L1073.1 1107.5M1100.9 1120.1L1109.4 1123.9L1130.2 1132.2M1158.5 1143.6L1161 1144.6L1189.8 1147.7M1218.2 1156.5L1244.5 1174.1M1271.6 1187.7L1301 1199.7M1328 1213.8L1353.4 1227.7L1355.9 1228.8M1383.7 1241.4L1399.6 1248.6L1413.5 1251.6M1443.3 1258L1446.6 1258.7L1474.8 1261.7M1505.2 1264.1L1536.9 1264.1M1567.4 1264.1L1591.9 1264.1L1599.1 1264.1M1629.6 1264.1L1644.6 1264.1L1647.6 1264.1"/>
<path d="M228.1 372.3h37.4v37.4h-37.4zM274.6 439.4h37.4v37.4h-37.4zM321.6 523.3h37.4v37.4h-37.4zM368.3 600.8h37.4v37.4h-37.4zM420.4 674h37.4v37.4h-37.4zM466.9 740.5h37.4v37.4h-37.4zM513.7 798.8h37.4v37.4h-37.4zM560.7 818.9h37.4v37.4h-37.4zM612.8 818.9h37.4v37.4h-37.4zM659.2 871.1h37.4v37.4h-37.4zM706.2 907.7h37.4v37.4h-37.4zM758.7 927.9h37.4v37.4h-37.4zM804.6 949.8h37.4v37.4h-37.4zM851.6 955h37.4v37.4h-37.4zM898.3 975.1h37.4v37.4h-37.4zM950.5 995h37.4v37.4h-37.4zM997.2 1058.3h37.4v37.4h-37.4zM1043.7 1084h37.4v37.4h-37.4zM1090.7 1105.2h37.4v37.4h-37.4zM1142.3 1125.9h37.4v37.4h-37.4zM1189.3 1131h37.4v37.4h-37.4zM1235.8 1162h37.4v37.4h-37.4zM1287.7 1183.2h37.4v37.4h-37.4zM1334.7 1209h37.4v37.4h-37.4zM1380.9 1229.9h37.4v37.4h-37.4zM1427.9 1240h37.4v37.4h-37.4zM1479.5 1245.4h37.4v37.4h-37.4zM1526.5 1245.4h37.4v37.4h-37.4zM1573.2 1245.4h37.4v37.4h-37.4zM1625.9 1245.4h37.4v37.4h-37.4z" stroke="none"/>
</g>
<g fill="#00ff00" stroke="#00ff00">
<path class="ln" clip-path="url(#cp)" d="M246.8 479.3L260.9 507.7M274.5 535L288.6 563.4M306.5 587.7L327.8 611.3M346.6 635.1L363.8 661.8M380.2 687.4L387 698L400 712.1M420.6 734.5L439.1 754.6L440.5 758.8M450.1 787.8L460.1 817.9M469.7 846.8L479.6 876.9M490.3 905.4L503.3 934.4M515.7 962.2L528.7 991.2M541.7 1018.7L555.5 1047.3M568.8 1074.7L579.4 1096.5L585.7 1100.5M611.6 1116.6L631.5 1129.1L637.3 1134.9M658.8 1156.5L677.9 1175.6L681.4 1178.7M704.3 1198.8L724.9 1216.9L728.6 1219.2M754.6 1235.1L777.4 1249.1L780.9 1252.6M802.3 1274.3L823.3 1295.6L825 1296.2M854.1 1305.4L870.3 1310.6L883.7 1316.5M911.6 1328.8L917 1331.2L942.4 1336.3M972.2 1342.3L1003.2 1349.1M1033.3 1354L1062.4 1357.6L1064.6 1358.3M1093.6 1367.9L1109.4 1373.1L1124.5 1373.1M1154.9 1373.1L1161 1373.1L1186.5 1375.9M1216.9 1378.2L1248.6 1378.2M1278.9 1380.6L1306.4 1383.4L1310.5 1383.4M1341 1383.4L1353.4 1383.4L1372.7 1383.4M1403.2 1383.4L1434.9 1383.4M1465.4 1383.4L1497.1 1383.4M1527.6 1383.4L1545.2 1383.4L1559.3 1383.4M1589.8 1383.4L1591.9 1383.4L1621.5 1383.4"/>
<path d="M228.3 479.3a18.5 18.5 0 1 0 37 0a18.5 18.5 0 1 0 -37 0zM274.8 573a18.5 18.5 0 1 0 37 0a18.5 18.5 0 1 0 -37 0zM321.8 625.2a18.5 18.5 0 1 0 37 0a18.5 18.5 0 1 0 -37 0zM368.5 698a18.5 18.5 0 1 0 37 0a18.5 18.5 0 1 0 -37 0zM420.6 754.6a18.5 18.5 0 1 0 37 0a18.5 18.5 0 1 0 -37 0zM467.1 894.9a18.5 18.5 0 1 0 37 0a18.5 18.5 0 1 0 -37 0zM513.9 999.5a18.5 18.5 0 1 0 37 0a18.5 18.5 0 1 0 -37 0zM560.9 1096.5a18.5 18.5 0 1 0 37 0a18.5 18.5 0 1 0 -37 0zM613 1129.1a18.5 18.5 0 1 0 37 0a18.5 18.5 0 1 0 -37 0zM659.4 1175.6a18.5 18.5 0 1 0 37 0a18.5 18.5 0 1 0 -37 0zM706.4 1216.9a18.5 18.5 0 1 0 37 0a18.5 18.5 0 1 0 -37 0zM758.9 1249.1a18.5 18.5 0 1 0 37 0a18.5 18.5 0 1 0 -37 0zM804.8 1295.6a18.5 18.5 0 1 0 37 0a18.5 18.5 0 1 0 -37 0zM851.8 1310.6a18.5 18.5 0 1 0 37 0a18.5 18.5 0 1 0 -37 0zM898.5 1331.2a18.5 18.5 0 1 0 37 0a18.5 18.5 0 1 0 -37 0zM950.7 1341.6a18.5 18.5 0 1 0 37 0a18.5 18.5 0 1 0 -37 0zM997.4 1351.9a18.5 18.5 0 1 0 37 0a18.5 18.5 0 1 0 -37 0zM1043.9 1357.6a18.5 18.5 0 1 0 37 0a18.5 18.5 0 1 0 -37 0zM1090.9 1373.1a18.5 18.5 0 1 0 37 0a18.5 18.5 0 1 0 -37 0zM1142.5 1373.1a18.5 18.5 0 1 0 37 0a18.5 18.5 0 1 0 -37 0zM1189.5 1378.2a18.5 18.5 0 1 0 37 0a18.5 18.5 0 1 0 -37 0zM1236 1378.2a18.5 18.5 0 1 0 37 0a18.5 18.5 0 1 0 -37 0zM1287.9 1383.4a18.5 18.5 0 1 0 37 0a18.5 18.5 0 1 0 -37 0zM1334.9 1383.4a18.5 18.5 0 1 0 37 0a18.5 18.5 0 1 0 -37 0zM1381.1 1383.4a18.5 18.5 0 1 0 37 0a18.5 18.5 0 1 0 -37 0zM1428.1 1383.4a18.5 18.5 0 1 0 37 0a18.5 18.5 0 1 0 -37 0zM1479.7 1383.4a18.5 18.5 0 1 0 37 0a18.5 18.5 0 1 0 -37 0zM1526.7 1383.4a18.5 18.5 0 1 0 37 0a18.5 18.5 0 1 0 -37 0zM1573.4 1383.4a18.5 18.5 0 1 0 37 0a18.5 18.5 0 1 0 -37 0zM1626.1 1383.4a18.5 18.5 0 1 0 37 0a18.5 18.5 0 1 0 -37 0z" stroke="none"/>
</g>
<g fill="#0000ff" stroke="#0000ff">
<path class="ln" clip-path="url(#cp)" d="M250.3 547.3L260.2 577.4M269.8 606.4L279.8 636.5M289.4 665.4L293.3 677.1L302.5 694.2M316.8 721.1L331.8 749.1M343.7 776.9L352.2 807.5M360.5 836.8L369.1 867.4M377.3 896.7L385.9 927.2M394.7 956.4L403.9 986.8M412.7 1016L421.9 1046.3M430.8 1075.5L439.1 1103L440.4 1105.7M453.3 1133.3L466.8 1162M479.7 1189.6L485.6 1202.2L496.3 1216.5M514.6 1240.8L532.4 1264.6L533.6 1266.2M552 1290.5L571.2 1315.8M593.3 1336.2L619.3 1354.3M646.4 1367.7L676.5 1377.7M706.7 1381.4L724.9 1383.4L738.3 1383.4M768.8 1383.4L777.4 1383.4L800.5 1383.4M831 1383.4L862.7 1383.7M893 1386.3L917 1389L924.6 1389M955.1 1389L969.2 1389L986.8 1389M1017.3 1389L1049 1389M1079.5 1389L1109.4 1389L1111.2 1389M1141.7 1389L1161 1389L1173.4 1389M1203.9 1389L1208 1389L1235.6 1389M1266.1 1389L1297.8 1389M1328.3 1389L1353.4 1389L1360 1389M1390.5 1389L1399.6 1389L1422.2 1389M1452.7 1389L1484.4 1389M1514.9 1389L1545.2 1389L1546.6 1389M1577.1 1389L1591.9 1389L1608.8 1389M1639.3 1389L1644.6 1389L1647.6 1389"/>
<path d="M234.2 511.6L271.8 536.9L234.2 562.2zM280.7 651.8L318.3 677.1L280.7 702.4zM327.7 739.7L365.3 765L327.7 790.3zM374.4 905.8L412 931.1L374.4 956.4zM426.5 1077.7L464.1 1103L426.5 1128.3zM473 1176.9L510.6 1202.2L473 1227.5zM519.8 1239.3L557.4 1264.6L519.8 1289.9zM566.8 1301.3L604.4 1326.6L566.8 1351.9zM618.9 1337.5L656.5 1362.8L618.9 1388.1zM665.3 1352.9L702.9 1378.2L665.3 1403.5zM712.3 1358.1L749.9 1383.4L712.3 1408.7zM764.8 1358.1L802.4 1383.4L764.8 1408.7zM810.7 1358.1L848.3 1383.4L810.7 1408.7zM857.7 1358.4L895.3 1383.7L857.7 1409zM904.4 1363.7L942 1389L904.4 1414.3zM956.6 1363.7L994.2 1389L956.6 1414.3zM1003.3 1363.7L1040.9 1389L1003.3 1414.3zM1049.8 1363.7L1087.4 1389L1049.8 1414.3zM1096.8 1363.7L1134.4 1389L1096.8 1414.3zM1148.4 1363.7L1186 1389L1148.4 1414.3zM1195.4 1363.7L1233 1389L1195.4 1414.3zM1241.9 1363.7L1279.5 1389L1241.9 1414.3zM1293.8 1363.7L1331.4 1389L1293.8 1414.3zM1340.8 1363.7L1378.4 1389L1340.8 1414.3zM1387 1363.7L1424.6 1389L1387 1414.3zM1434 1363.7L1471.6 1389L1434 1414.3zM1485.6 1363.7L1523.2 1389L1485.6 1414.3zM1532.6 1363.7L1570.2 1389L1532.6 1414.3zM1579.3 1363.7L1616.9 1389L1579.3 1414.3zM1632 1363.7L1669.6 1389L1632 1414.3z" stroke="none"/>
</g>
</g>
<rect x="1682" y="32" width="698" height="784" fill="#fff" stroke="#000" stroke-width="4.8"/>
<g fill="#bfbf00">
<path d="M1722.8 71.2h47v16.3h-47zM1784.8 71.2h110v16.3h-110zM1909.7 71.2h22v16.3h-22z"/>
<path d="M1814 66.4h26v26h-26z"/><path d="M1816.9 84.4a15.5 15.5 0 1 0 31 0a15.5 15.5 0 1 0 -31 0z"/>
</g>
<text class="lg" x="1952.5" y="96.4" textLength="99.3" lengthAdjust="spacing">SVM</text>
<g fill="#abebff">
<path d="M1722.8 149.4h47v16.3h-47zM1784.8 149.4h110v16.3h-110zM1909.7 149.4h22v16.3h-22z"/>
<path d="M1835 129.2L1835 146.1L1852 146.1L1834.3 164.1L1777 192.6L1810.6 159.1L1797 146.1L1817.8 146.1z"/><path d="M1816.9 162.6a15.5 15.5 0 1 0 31 0a15.5 15.5 0 1 0 -31 0z"/>
</g>
<text class="lg" x="1952.5" y="168.6" textLength="55.9" lengthAdjust="spacing">RF</text>
<g fill="#3a7156">
<path d="M1722.8 221.8h47v16.3h-47zM1784.8 221.8h110v16.3h-110zM1909.7 221.8h22v16.3h-22z"/>
<path d="M1827 208.2l21.7 21.7l-21.7 21.7l-21.7 -21.7z"/><path d="M1816.9 234.9a15.5 15.5 0 1 0 31 0a15.5 15.5 0 1 0 -31 0z"/>
</g>
<text class="lg" x="1952.5" y="246.2" textLength="173.1" lengthAdjust="spacing">MLPNN</text>
<g fill="#ff00ff">
<path d="M1722.8 299.7h47v16.3h-47zM1784.8 299.7h110v16.3h-110zM1909.7 299.7h22v16.3h-22z"/>
<path d="M1821.3 296.9L1832.7 296.9L1835.2 299.4L1835.2 316.2L1832.7 318.7L1821.3 318.7L1818.8 316.2L1818.8 299.4z"/><path d="M1816.9 312.8a15.5 15.5 0 1 0 31 0a15.5 15.5 0 1 0 -31 0z"/>
</g>
<text class="lg" x="1952.5" y="324.1" textLength="156.4" lengthAdjust="spacing">RBFNN</text>
<g fill="#f3dcb8">
<path d="M1722.8 377.9h47v16.3h-47zM1784.8 377.9h110v16.3h-110zM1909.7 377.9h22v16.3h-22z"/>
<path d="M1821.3 375.1L1832.7 375.1L1835.2 377.6L1835.2 394.4L1832.7 396.9L1821.3 396.9L1818.8 394.4L1818.8 377.6z"/><path d="M1816.9 391a15.5 15.5 0 1 0 31 0a15.5 15.5 0 1 0 -31 0z"/>
</g>
<text class="lg" x="1952.5" y="402.6" textLength="125" lengthAdjust="spacing">LSTM</text>
<g fill="#ff0000">
<path d="M1722.8 450h47v16.3h-47zM1784.8 450h110v16.3h-110zM1909.7 450h22v16.3h-22z"/>
<path d="M1821.3 447.2L1832.7 447.2L1835.2 449.7L1835.2 466.5L1832.7 469L1821.3 469L1818.8 466.5L1818.8 449.7z"/><path d="M1816.9 463.1a15.5 15.5 0 1 0 31 0a15.5 15.5 0 1 0 -31 0z"/>
</g>
<text class="lg" x="1952.5" y="474.4" textLength="250.6" lengthAdjust="spacing">BBO-DCNN</text>
<g fill="#ffff00">
<path d="M1722.8 528.5h47v16.3h-47zM1784.8 528.5h110v16.3h-110zM1909.7 528.5h22v16.3h-22z"/>
<path d="M1827 525l11.6 11.6l-11.6 11.6l-11.6 -11.6z"/><path d="M1816.9 541.6a15.5 15.5 0 1 0 31 0a15.5 15.5 0 1 0 -31 0z"/>
</g>
<text class="lg" x="1952.5" y="552.9" textLength="272.6" lengthAdjust="spacing">GWO-DCNN</text>
<g fill="#000000">
<path d="M1722.8 606.4h47v16.3h-47zM1784.8 606.4h110v16.3h-110zM1909.7 606.4h22v16.3h-22z"/>
<path d="M1808.3 595.8h37.4v37.4h-37.4z"/><path d="M1816.9 619.5a15.5 15.5 0 1 0 31 0a15.5 15.5 0 1 0 -31 0z"/>
</g>
<text class="lg" x="1952.5" y="630.8" textLength="266.4" lengthAdjust="spacing">BWO-DCNN</text>
<g fill="#00ff00">
<path d="M1722.8 679.2h47v16.3h-47zM1784.8 679.2h110v16.3h-110zM1909.7 679.2h22v16.3h-22z"/>
<path d="M1808.5 687.4a18.5 18.5 0 1 0 37 0a18.5 18.5 0 1 0 -37 0z"/><path d="M1816.9 692.4a15.5 15.5 0 1 0 31 0a15.5 15.5 0 1 0 -31 0z"/>
</g>
<text class="lg" x="1952.5" y="708.4" textLength="291.5" lengthAdjust="spacing">CapSA-DCNN</text>
<g fill="#0000ff">
<path d="M1722.8 757.5h47v16.3h-47zM1784.8 757.5h110v16.3h-110zM1909.7 757.5h22v16.3h-22z"/>
<path d="M1814.4 740.3L1852 765.6L1814.4 790.9z"/><path d="M1816.9 770.6a15.5 15.5 0 1 0 31 0a15.5 15.5 0 1 0 -31 0z"/>
</g>
<text class="lg" x="1952.5" y="781.6" textLength="390.5" lengthAdjust="spacing">MOBChOA-DCNN</text>
</svg></body></html>
